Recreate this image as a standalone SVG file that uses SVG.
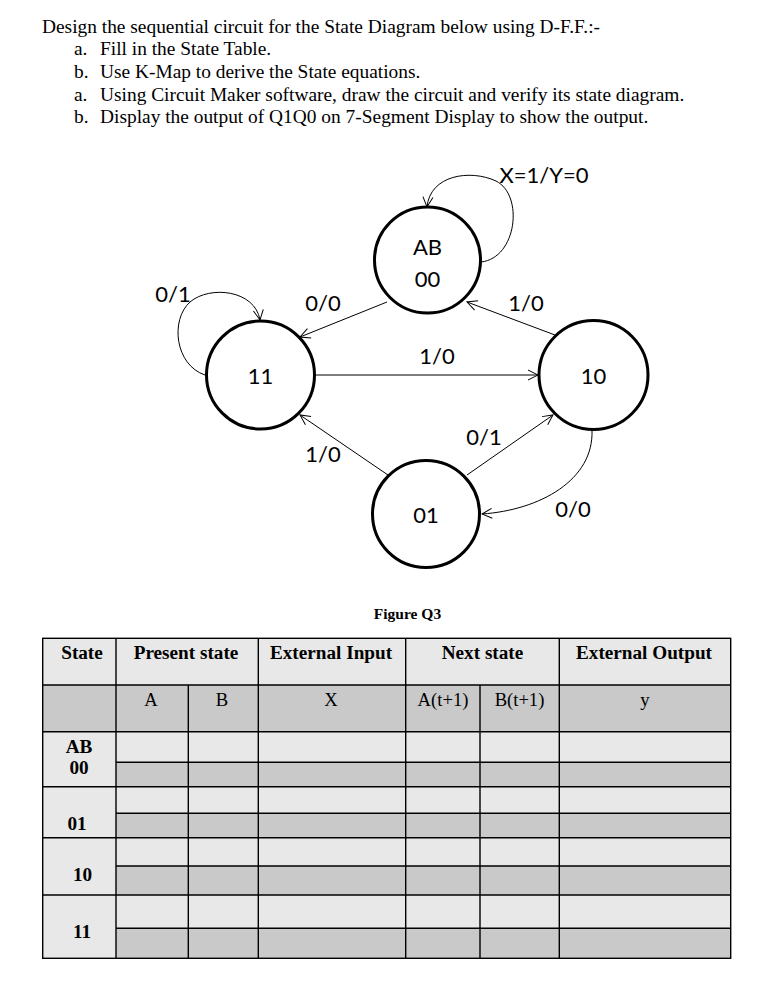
<svg xmlns="http://www.w3.org/2000/svg" width="778" height="992" viewBox="0 0 778 992">
<style>
.t{font-family:"Liberation Serif","Times New Roman",serif;font-size:19.4px;fill:#000}
.st{font-family:Lato,"Open Sans",sans-serif;font-size:22px;fill:#000;text-anchor:middle}
.lb{font-family:Lato,"Open Sans",sans-serif;font-size:22px;fill:#000;text-anchor:middle}
.node{fill:#fff;stroke:#000;stroke-width:3}
.edge{fill:none;stroke:#000;stroke-width:1}
.th{font-family:"Liberation Serif","Times New Roman",serif;font-size:19.2px;font-weight:bold;text-anchor:middle;fill:#000}
.td{font-family:"Liberation Serif","Times New Roman",serif;font-size:18.6px;text-anchor:middle;fill:#000}
.lt{fill:#e8e8e8}
.dk{fill:#c9c9c9}
.gl{stroke:#000;stroke-width:1.4;fill:none}
</style>
<defs>
<marker id="arr" viewBox="0 0 12 12" refX="11" refY="6" markerWidth="12" markerHeight="12" markerUnits="userSpaceOnUse" orient="auto">
<path d="M1,1 L11,6 L1,11" fill="none" stroke="#000" stroke-width="1"/>
</marker>
</defs>
<rect width="778" height="992" fill="#fff"/>
<g id="question">
<text class="t" x="42" y="33">Design the sequential circuit for the State Diagram below using D-F.F.:-</text>
<text class="t" x="74" y="55">a.</text><text class="t" x="100" y="55">Fill in the State Table.</text>
<text class="t" x="74" y="78">b.</text><text class="t" x="100" y="78">Use K-Map to derive the State equations.</text>
<text class="t" x="74" y="101">a.</text><text class="t" x="100" y="101">Using Circuit Maker software, draw the circuit and verify its state diagram.</text>
<text class="t" x="74" y="123">b.</text><text class="t" x="100" y="123">Display the output of Q1Q0 on 7-Segment Display to show the output.</text>
</g>
<g id="connectors">
<path class="edge" marker-end="url(#arr)" d="M481,262 C517,258 524,195 496,181 C470,169 430,175 427,207"/>
<path class="edge" marker-end="url(#arr)" d="M205,375 C175,365 170,320 190,302 C210,285 255,290 260,320"/>
<path class="edge" marker-end="url(#arr)" d="M387,302 L300,337"/>
<path class="edge" marker-end="url(#arr)" d="M555,335 L467,302"/>
<path class="edge" marker-end="url(#arr)" d="M315,375 L538,375"/>
<path class="edge" marker-end="url(#arr)" d="M388,475 L300,415"/>
<path class="edge" marker-end="url(#arr)" d="M467,475 L553,415"/>
<path class="edge" marker-end="url(#arr)" d="M592,430 C594,480 540,510 482,514"/>
<text class="lb" x="544" y="183">X=1/Y=0</text>
<text class="lb" x="173" y="302">0/1</text>
<text class="lb" x="323" y="311">0/0</text>
<text class="lb" x="526" y="311">1/0</text>
<text class="lb" x="437" y="364">1/0</text>
<text class="lb" x="323" y="462">1/0</text>
<text class="lb" x="484" y="445">0/1</text>
<text class="lb" x="573" y="517">0/0</text>
</g>
<g id="node-00">
<circle class="node" cx="427.5" cy="260" r="53"/>
<text class="st" x="427.5" y="255">AB</text>
<text class="st" x="427.5" y="287">00</text>
</g>
<g id="node-11">
<circle class="node" cx="260.5" cy="375" r="54"/>
<text class="st" x="260.5" y="384">11</text>
</g>
<g id="node-10">
<circle class="node" cx="593.5" cy="375" r="54.5"/>
<text class="st" x="593.5" y="384">10</text>
</g>
<g id="node-01">
<circle class="node" cx="426" cy="514" r="53.5"/>
<text class="st" x="426" y="523">01</text>
</g>
<text x="407.5" y="619" font-family="Liberation Serif, Times New Roman, serif" font-size="15.5" font-weight="bold" text-anchor="middle">Figure Q3</text>
<g id="state-table">
<rect class="lt" x="42.7" y="638.3" width="688" height="46.7"/>
<rect class="dk" x="42.7" y="685" width="688" height="46.7"/>
<rect class="lt" x="42.7" y="731.7" width="73.3" height="226.6"/>
<rect class="lt" x="116" y="731.7" width="614.7" height="30.6"/>
<rect class="dk" x="116" y="762.3" width="614.7" height="24.4"/>
<rect class="lt" x="116" y="786.7" width="614.7" height="26.6"/>
<rect class="dk" x="116" y="813.3" width="614.7" height="24.4"/>
<rect class="lt" x="116" y="837.7" width="614.7" height="28.3"/>
<rect class="dk" x="116" y="866" width="614.7" height="29"/>
<rect class="lt" x="116" y="895" width="614.7" height="33.3"/>
<rect class="dk" x="116" y="928.3" width="614.7" height="30"/>
<rect class="gl" x="42.7" y="638.3" width="688" height="320"/>
<path class="gl" d="M42.7,685 H730.7 M42.7,731.7 H730.7 M42.7,786.7 H730.7 M42.7,837.7 H730.7 M42.7,895 H730.7 M116,762.3 H730.7 M116,813.3 H730.7 M116,866 H730.7 M116,928.3 H730.7"/>
<path class="gl" d="M116,638.3 V958.3 M258.3,638.3 V958.3 M405.7,638.3 V958.3 M559.3,638.3 V958.3 M188.3,685 V958.3 M480,685 V958.3"/>
<text class="th" x="82" y="659">State</text>
<text class="th" x="186" y="659">Present state</text>
<text class="th" x="331" y="659">External Input</text>
<text class="th" x="482.5" y="659">Next state</text>
<text class="th" x="644" y="659">External Output</text>
<text class="td" x="151" y="706">A</text>
<text class="td" x="222" y="706">B</text>
<text class="td" x="331" y="706">X</text>
<text class="td" x="443" y="706">A(t+1)</text>
<text class="td" x="519.5" y="706">B(t+1)</text>
<text class="td" x="645" y="706">y</text>
<text class="th" x="79" y="753">AB</text>
<text class="th" x="79" y="774">00</text>
<text class="th" x="77" y="830">01</text>
<text class="th" x="82.5" y="881">10</text>
<text class="th" x="82" y="938">11</text>
</g>
</svg>
